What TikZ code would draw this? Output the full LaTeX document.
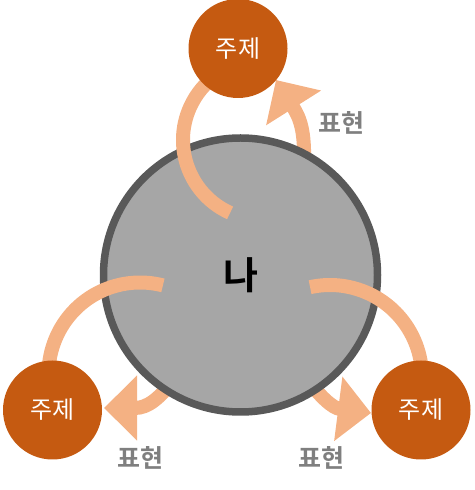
\documentclass[tikz,border=0pt]{standalone}
\usepackage{fontspec}
\newfontfamily\krfont{Noto Sans CJK KR}
\newfontfamily\krbold{Noto Sans CJK KR Bold}
\usetikzlibrary{arrows.meta}
\definecolor{topicc}{HTML}{C55A11}
\definecolor{arrowc}{HTML}{F4B183}
\definecolor{bigfill}{HTML}{A6A6A6}
\definecolor{bigedge}{HTML}{595959}
\definecolor{labelc}{HTML}{7F7F7F}
\tikzset{
  topic/.style={circle, fill=topicc, inner sep=0pt, minimum size=99pt, text=white,
    font=\krfont\fontsize{24}{24}\selectfont},
  self/.style={circle, fill=bigfill, draw=bigedge, line width=7.5pt, inner sep=0pt,
    minimum size=274pt, font=\krbold\fontsize{38}{38}\selectfont},
  arcline/.style={draw=arrowc, line width=14pt},
  expr/.style={draw=arrowc, line width=14pt, -{Triangle[length=33pt,width=63pt]}, arrowc},
  exprlabel/.style={text=labelc, font=\krbold\fontsize{25}{25}\selectfont, inner sep=0pt}
}
\begin{document}
\begin{tikzpicture}[x=1pt,y=1pt]
\useasboundingbox (0,0) rectangle (474,490);
% centres
\coordinate (cT) at (238,441.5);
\coordinate (cL) at (52.5,80);
\coordinate (cR) at (421,80);
\coordinate (cS) at (240.5,215);
% expression arrows (behind the big circle)
\coordinate (sT) at (304,325);
\coordinate (tT) at (276,410);
\coordinate (sL) at (175,112);
\coordinate (tL) at (104,82);
\coordinate (sR) at (306,112);
\coordinate (tR) at (371,77);
\draw[expr] (sT) .. controls (305,360) and (300,372) .. (tT);
\draw[expr] (sL) .. controls (160,92) and (148,82) .. (tL);
\draw[expr] (sR) .. controls (320,94) and (332,82) .. (tR);
% self
\node[self] (me) at (cS) {나};
% topic arcs (over the big circle)
\draw[arcline] (263,350) ++(245.7:80) arc[start angle=245.7, end angle=125, radius=80];
\draw[arcline] (140,116) ++(75.5:91.5) arc[start angle=75.5, end angle=180, radius=91.5];
\draw[arcline] (330,113) ++(102.5:92) arc[start angle=102.5, end angle=0, radius=92];
% topics
\node[topic] (top) at (cT) {주제};
\node[topic] (left) at (cL) {주제};
\node[topic] (right) at (cR) {주제};
% labels
\node[exprlabel] (lT) at (341,367) {표현};
\node[exprlabel] (lL) at (140,32) {표현};
\node[exprlabel] (lR) at (321,32) {표현};
\end{tikzpicture}
\end{document}
